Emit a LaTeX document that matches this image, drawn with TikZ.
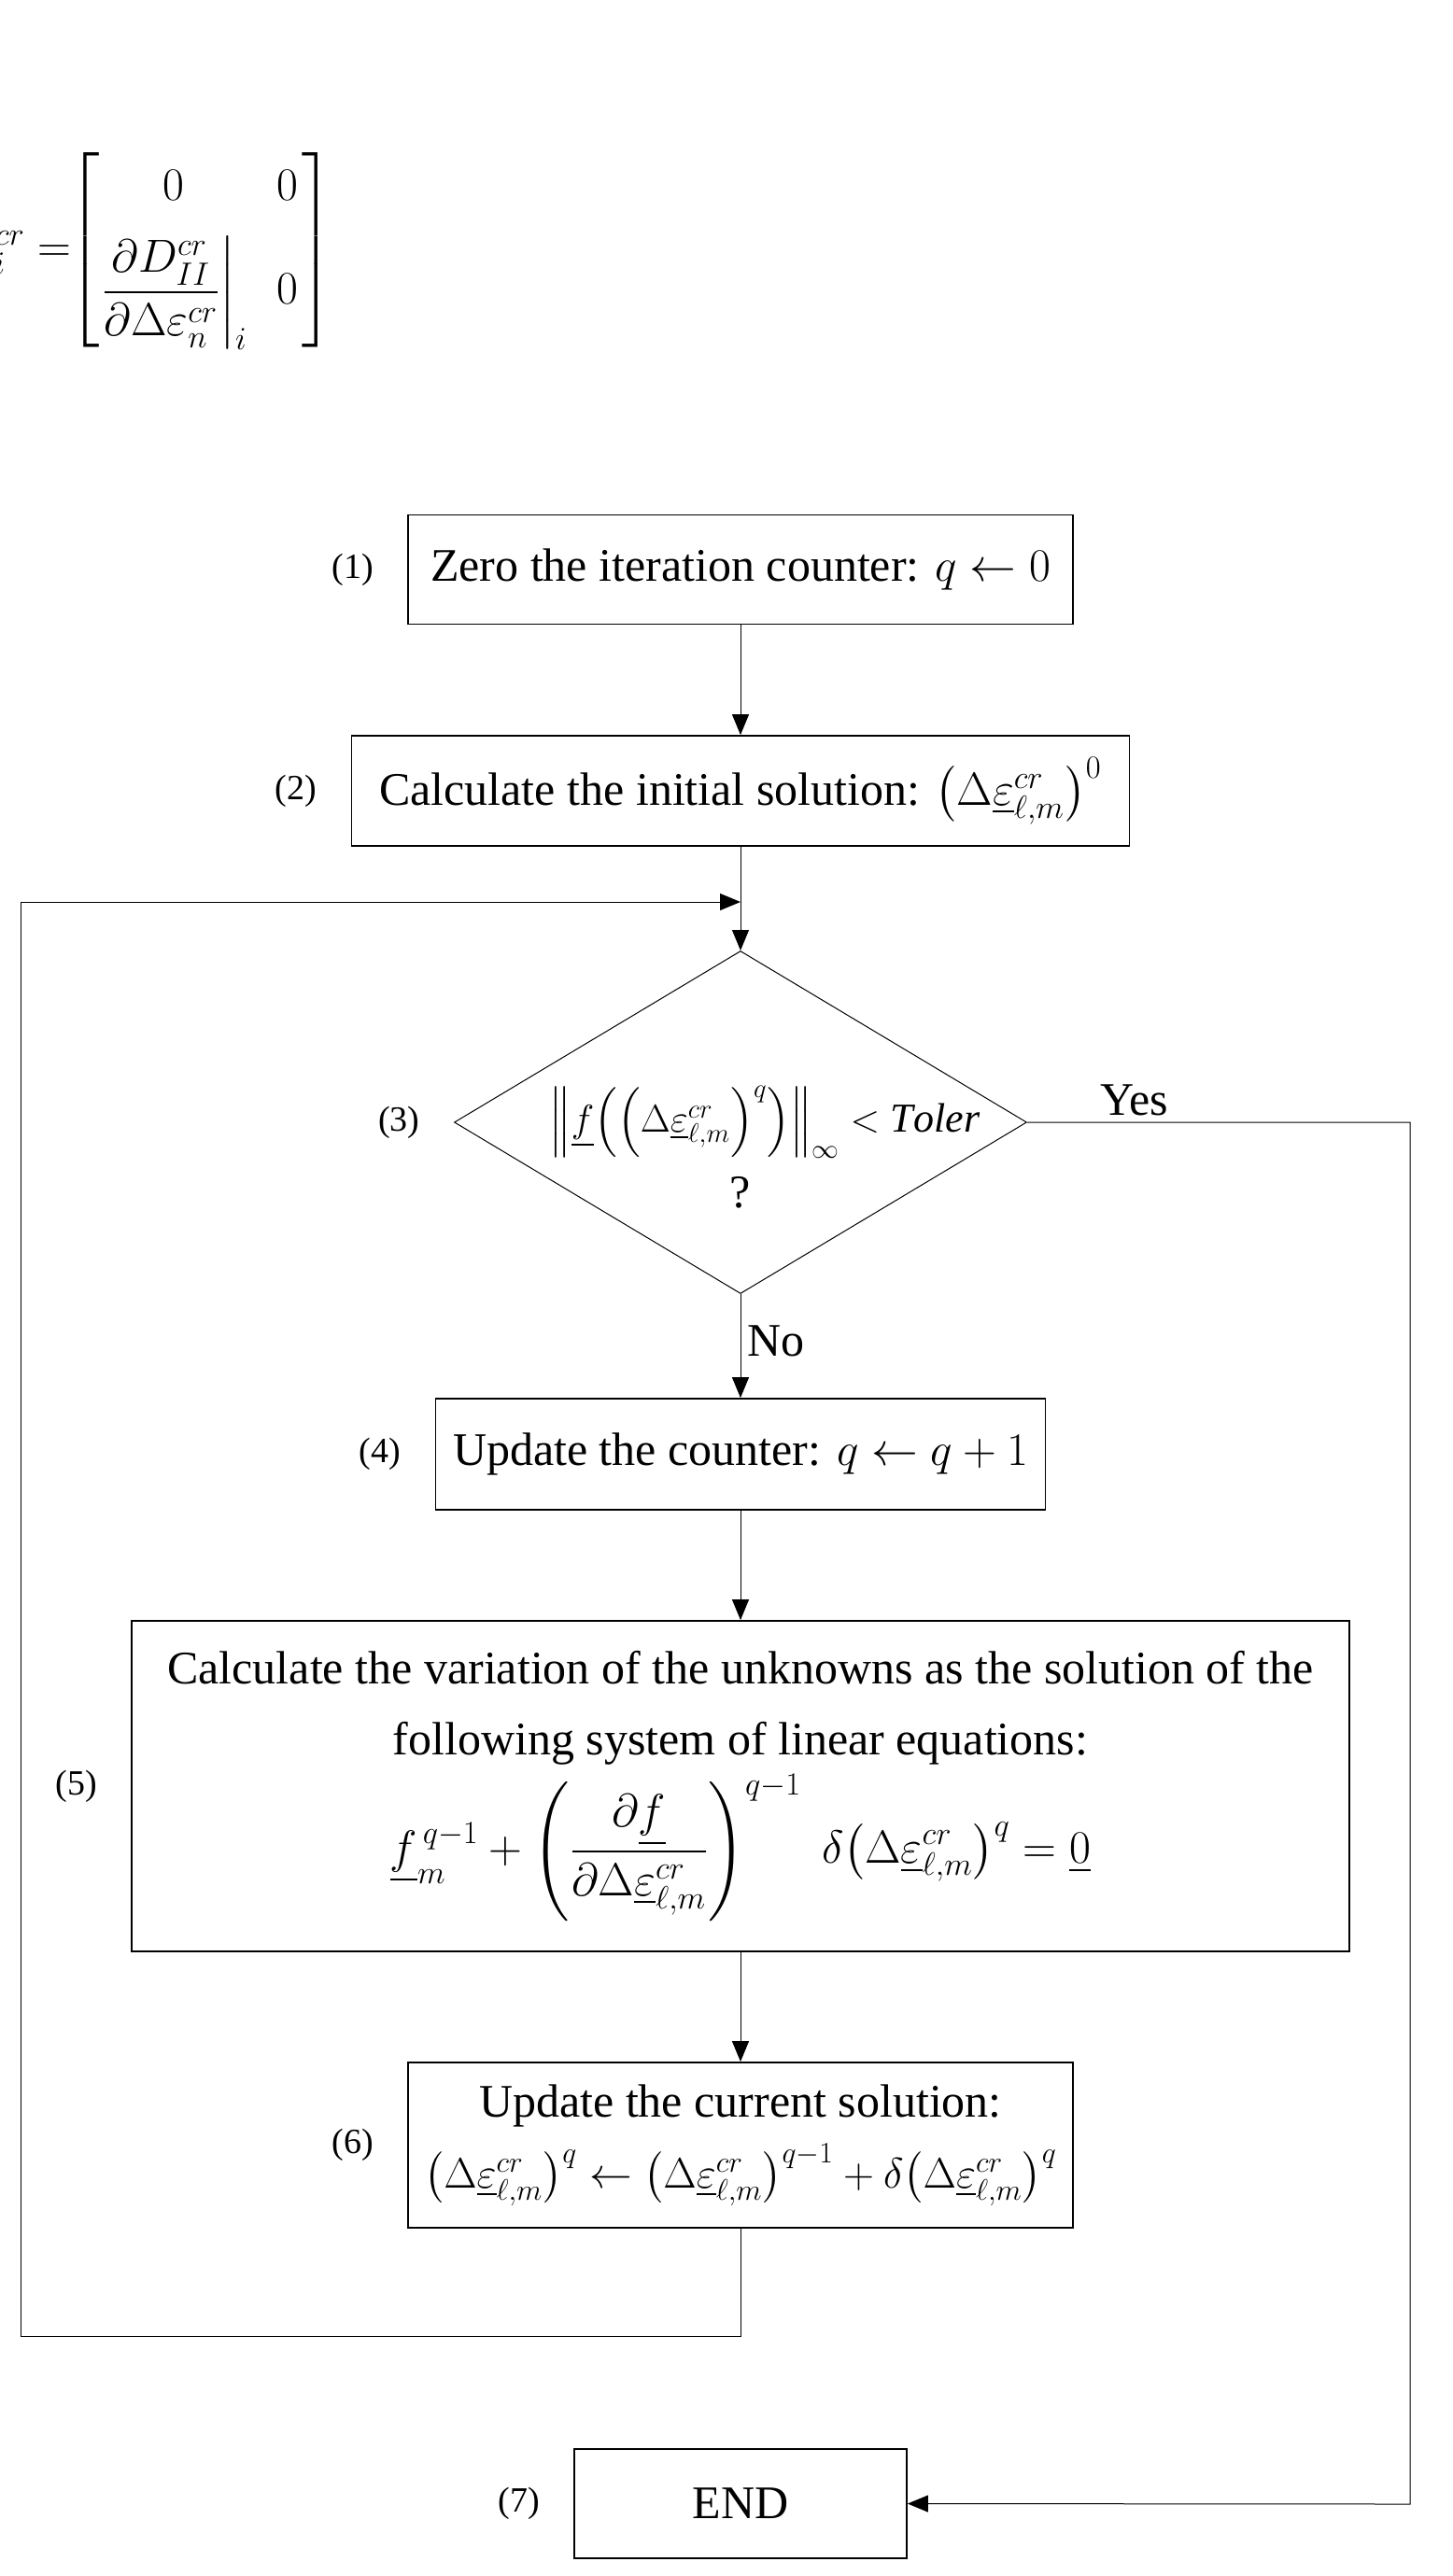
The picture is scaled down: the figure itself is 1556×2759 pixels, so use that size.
\documentclass[tikz,border=0pt]{standalone}
\usepackage{amsmath}
\usepackage{graphicx}
\usepackage{fontspec}
\setmainfont{Liberation Serif}
\usetikzlibrary{shapes.geometric,arrows.meta}
\newcommand{\dEps}{\Delta\underline{\varepsilon}^{cr}_{\ell,m}}

\begin{document}
\begin{tikzpicture}
        [
           x=0.5pt, y=-0.5pt,
           every node/.style={font=\fontsize{25}{38}\selectfont},
           box/.style={rectangle, draw, line width=0.9pt, align=center, inner sep=0pt},
           decision/.style={diamond, draw, line width=0.5pt, inner sep=0pt,
                            minimum width=306.5pt, minimum height=183.5pt},
           num/.style={font=\fontsize{19}{23}\selectfont, inner sep=0pt, label distance=18pt},
           arr/.style={-{Triangle[length=11pt,width=9pt]}, line width=0.5pt}
        ]
        \useasboundingbox (0,0) rectangle (1556,2759);
        \clip (0,0) rectangle (1556,2759);
        % matrix cut at the left edge
        \node[anchor=east, inner sep=0pt] (tangent) at (357,268)
            {$D^{cr}_{i}=\!\!\left[\begin{array}{@{}c@{\hspace{16pt}}c@{\hspace{2pt}}}
              0 & 0\\[8pt]
              \left.\dfrac{\partial D^{cr}_{II}}{\partial\Delta\varepsilon^{cr}_{n}}\right|_{i} & 0
            \end{array}\right]$};
        % flowchart
        \node[box, minimum width=356pt, minimum height=58.5pt, label={[num]left:(1)}] (zero) at (793,610)
            {Zero the iteration counter: $q\leftarrow 0$};
        \node[box, minimum width=416.5pt, minimum height=59pt, label={[num]left:(2)}] (init) at (793,847)
            {Calculate the initial solution: $\bigl(\dEps\bigr)^{0}$};
        \node[decision, label={[num]left:(3)},
              label={[xshift=13pt, font=\fontsize{22}{30}\selectfont]center:$\Big\|\underline{f}\Bigl(\Bigl(\dEps\Bigr)^{q}\Bigr)\Big\|_{\infty}<\mathit{Toler}$},
              label={[yshift=-37.5pt]center:?}]
            (test) at (793,1202) {};
        \node[box, minimum width=326.5pt, minimum height=59.5pt, label={[num]left:(4)}] (count) at (793,1557.5)
            {Update the counter: $q\leftarrow q+1$};
        \node[box, minimum width=652pt, minimum height=177pt, label={[num]left:(5)}] (solve) at (793,1913)
            {Calculate the variation of the unknowns as the solution of the\\
             following system of linear equations:\\[4pt]
             $\displaystyle \underline{f}^{\,q-1}_{m}+\left(\frac{\partial\underline{f}}{\partial\dEps}\right)^{q-1}
              \;\delta\bigl(\dEps\bigr)^{q}=\underline{0}$};
        \node[box, minimum width=356pt, minimum height=88.5pt, label={[num]left:(6)}] (update) at (793,2297.5)
            {Update the current solution:\\
             \scalebox{0.92}{$\bigl(\dEps\bigr)^{q}\leftarrow\bigl(\dEps\bigr)^{q-1}+\delta\bigl(\dEps\bigr)^{q}$}};
        \node[box, minimum width=178pt, minimum height=58.5pt, label={[num]left:(7)}] (end) at (793,2681.5) {END};
        \coordinate (join) at (793,966);
        \coordinate (back) at (22,2502);
        \coordinate (yesturn) at (1510,2682);
        \draw[arr] (zero) -- (init);
        \draw[arr] (init) -- (test);
        \draw[arr] (test) -- node[pos=0.45,right]{No} (count);
        \draw[arr] (count) -- (solve);
        \draw[arr] (solve) -- (update);
        \draw[arr] (update.south) |- (back) |- (join);
        \draw[arr] (test.east) -| node[pos=0.14,above]{Yes} (yesturn) -- (end.east);
\end{tikzpicture}
\end{document}
